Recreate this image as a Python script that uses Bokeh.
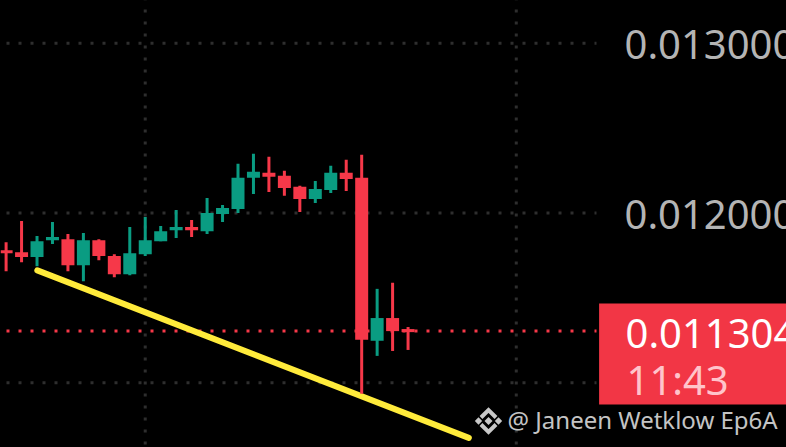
from bokeh.plotting import figure
from bokeh.models import ColumnDataSource, Range1d
from bokeh.core.properties import value
from bokeh.embed import file_html
from bokeh.resources import INLINE

opens = [.011781,.011769,.011740,.011840,.011846,.011692,.011840,.011746,.011639,.011757,.011834,.011899,.011917,.011893,.011994,.012024,.012207,.012237,.012219,.012154,.012083,.012136,.012237,.012207,.011247,.011381,.011316]
closes = [.011763,.011740,.011834,.011858,.011692,.011840,.011746,.011639,.011763,.011840,.011893,.011917,.011899,.012000,.012030,.012207,.012243,.012213,.012148,.012083,.012142,.012237,.012201,.011253,.011381,.011304,.011298]
highs = [.011828,.011953,.011864,.011947,.011876,.011882,.011846,.011757,.011917,.011976,.011923,.012018,.011959,.012089,.012047,.012290,.012349,.012331,.012249,.012160,.012189,.012278,.012314,.012343,.011553,.011589,.011328]
lows = [.011657,.011710,.011686,.011817,.011657,.011598,.011722,.011621,.011633,.011746,.011834,.011852,.011858,.011876,.011947,.012000,.012112,.012124,.012101,.012006,.012059,.012118,.012130,.010935,.011158,.011187,.011193]
price_ticks = [0.013, 0.012, 0.011]
price_labels = ["0.013000", "0.012000"]
time_ticks = [9, 33]
last_price = 0.011304
last_label = "0.011304"
countdown = "11:43"
trend_x = [2.02, 29.93]
trend_y = [0.011662, 0.010675]
watermark = "@ Janeen Wetklow Ep6A"

W, H = 786, 447
X0, DX = 5.6, 15.46
Y0, DY = 212.5, 169700.0
UP, DOWN = "#0a9c82", "#f63849"

def ix(px):
    return (px - X0) / DX

def iy(py):
    return 0.012 + (Y0 - py) / DY

p = figure(width=W, height=H, output_backend="svg", toolbar_location=None,
           x_range=Range1d(ix(0), ix(W)), y_range=Range1d(iy(H), iy(0)),
           background_fill_color="#000000", border_fill_color="#000000",
           min_border=0, outline_line_color=None)
p.axis.visible = False
p.grid.visible = False

# grid
grid_x_end = ix(596)
for t in price_ticks:
    p.line([ix(6), grid_x_end], [t, t], line_color="#2e2e2e", line_width=3, line_dash="3 9")
for t in time_ticks:
    p.line([t, t], [iy(-3), iy(H)], line_color="#2e2e2e", line_width=3, line_dash="3 9")
p.line([ix(6), grid_x_end], [last_price, last_price], line_color=DOWN, line_width=3, line_dash="3 9")

# trend line
p.line(trend_x, trend_y, line_color="#ffeb3b", line_width=6, line_cap="round")

# candles
xs = list(range(len(opens)))
colors = [UP if c >= o else DOWN for o, c in zip(opens, closes)]
src = ColumnDataSource(dict(x=xs, o=opens, c=closes, h=highs, l=lows, color=colors))
p.segment("x", "h", "x", "l", source=src, line_color="color", line_width=3)
p.vbar(x="x", width=13 / DX, top="o", bottom="c", source=src, fill_color="color", line_color=None)

# price labels
label_src = ColumnDataSource(dict(x=[ix(624)] * 2, y=price_ticks[:2], t=price_labels))
p.text("x", "y", text="t", source=label_src, text_color="#b4b4b4", text_font=value("Noto Sans"),
       text_font_size="40px", text_baseline="middle", text_align="left", y_offset=1)

# last price box
p.quad(left=[ix(598.6)], right=[ix(W + 5)], top=[iy(303)], bottom=[iy(404)], fill_color="#f23645", line_color=None)
p.text([ix(625)], [iy(333)], text=[last_label], text_color="#ffffff", text_font=value("Noto Sans"),
       text_font_size="40px", text_baseline="middle", text_align="left")
p.text([ix(626)], [iy(379)], text=[countdown], text_color="#ffc4cb", text_font=value("Noto Sans"),
       text_font_size="40px", text_baseline="middle", text_align="left")

# watermark
cx, cy = 488.0, 420.5
logo = "#c8c8c8"
def dia(x, y, r):
    return [ix(x - r), ix(x), ix(x + r), ix(x)], [iy(y), iy(y - r), iy(y), iy(y + r)]
for dx, dy, r in [(0, 0, 4.0), (-10, 0, 3.7), (10, 0, 3.7)]:
    a, b = dia(cx + dx, cy + dy, r)
    p.patch(a, b, fill_color=logo, line_color=None)
for s in (-1, 1):
    p.line([ix(cx - 7.5), ix(cx), ix(cx + 7.5)], [iy(cy + s * 3.5), iy(cy + s * 11), iy(cy + s * 3.5)],
           line_color=logo, line_width=4, line_join="miter")
p.text([ix(507)], [iy(419)], text=[watermark], text_color="#c4c4c4", text_font=value("Noto Sans"),
       text_font_size="24px", text_baseline="middle", text_align="left")

html = file_html(p, INLINE)
html = html.replace("<head>", "<head><style>html,body{margin:0;padding:0;background:#000;overflow:hidden}</style>", 1)
open("out.html", "w").write(html)
